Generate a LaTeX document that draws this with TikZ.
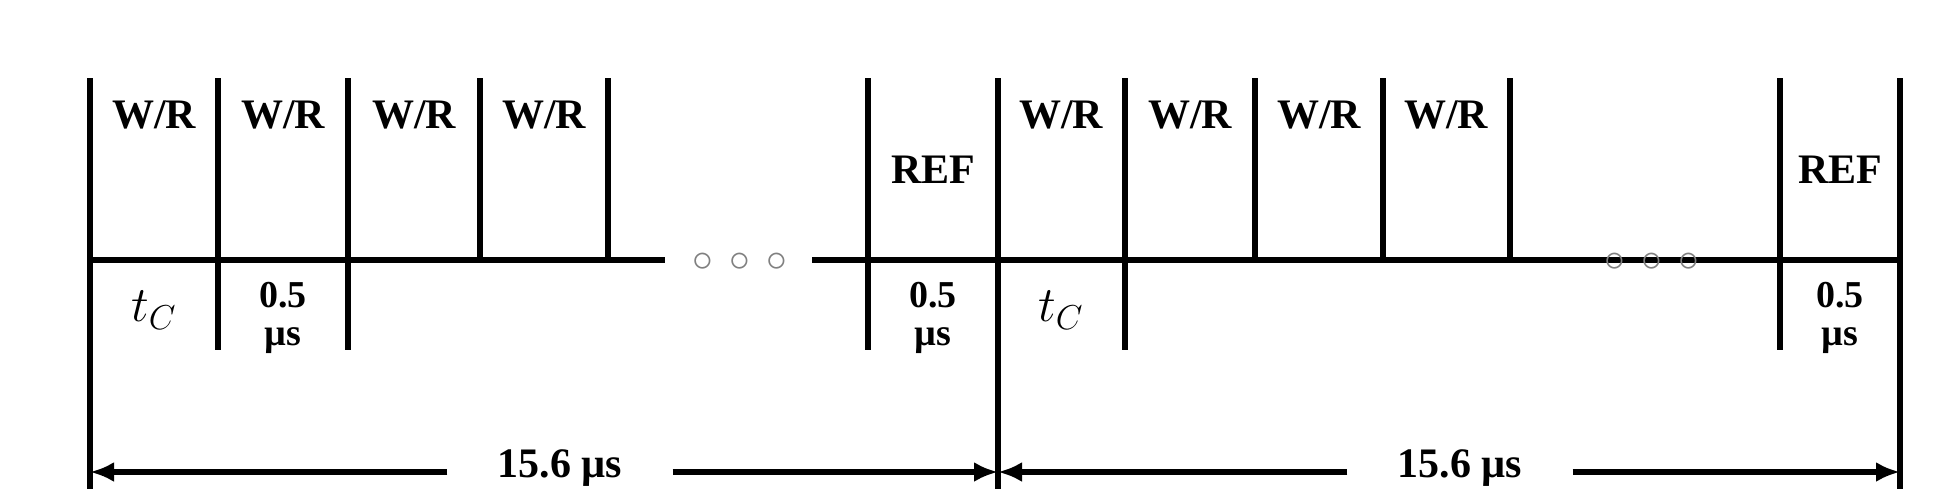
\documentclass[tikz,border=0pt]{standalone}
\usepackage{fontspec}
\setmainfont{Liberation Serif}
\usetikzlibrary{arrows.meta}
\begin{document}
\begin{tikzpicture}[x=0.5pt,y=-0.5pt,
  ln/.style={line width=2.6pt},
  lb/.style={font=\fontsize{21}{22}\selectfont\bfseries,inner sep=0pt},
  sm/.style={font=\fontsize{19}{19}\selectfont\bfseries,inner sep=0pt,align=center},
  tc/.style={font=\fontsize{24}{24}\selectfont,inner sep=0pt},
  dim/.style={line width=2.6pt,-{Latex[length=12pt,width=10pt]}}]
\useasboundingbox (0,0) rectangle (1954,489);
% vertical lines
\foreach \x/\b in {90/489,218/350,348/350,480/260,608/260,868/350,998/489,1125/350,1255/260,1383/260,1510/260,1780/350,1900/489}{
  \draw[ln] (\x,78) -- (\x,\b);}
% horizontal
\coordinate (h1) at (90,260); \coordinate (h2) at (665,260);
\coordinate (h3) at (812,260); \coordinate (h4) at (998,260);
\coordinate (h5) at (1570,260); \coordinate (h6) at (1718,260);
\coordinate (h7) at (1900,260);
\draw[ln] (h1) -- (h2); \draw[ln] (h3) -- (h7);
\draw[ln] (h4) -- (h5); \draw[ln] (h6) -- (h7);
\node[font=\fontsize{20}{20}\selectfont,text=gray] (d1) at (740,262) {$\circ\,\circ\,\circ$};
\node[font=\fontsize{20}{20}\selectfont,text=gray] (d2) at (1652,262) {$\circ\,\circ\,\circ$};
% labels
\foreach \x/\n in {154/a,283/b,414/c,544/d,1061/e,1190/f,1319/g,1446/h}{
  \node[lb] (w\n) at (\x,115) {W/R};}
\node[lb] (r1) at (933,170) {REF};
\node[lb] (r2) at (1840,170) {REF};
\node[tc] (t1) at (154,310) {$t_{C}$};
\node[tc] (t2) at (1061,310) {$t_{C}$};
\node[sm] (f1) at (283,318) {0.5\\µs};
\node[sm] (f2) at (933,318) {0.5\\µs};
\node[sm] (f3) at (1840,318) {0.5\\µs};
% dimension arrows
\node[lb] (m1) at (560,468) {15.6 µs};
\node[lb] (m2) at (1460,468) {15.6 µs};
\coordinate (a0) at (90,472); \coordinate (a1) at (998,472); \coordinate (a2) at (1900,472);
\draw[dim] (m1.west) ++(-50,4) -- (a0);
\draw[dim] (m1.east) ++(50,4) -- (a1);
\draw[dim] (m2.west) ++(-50,4) -- (a1);
\draw[dim] (m2.east) ++(50,4) -- (a2);
\end{tikzpicture}
\end{document}
